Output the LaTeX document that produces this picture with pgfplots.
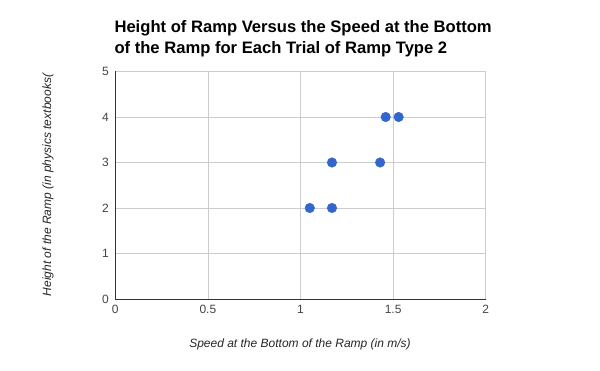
\documentclass[border=0pt]{standalone}
\usepackage{pgfplots}
\pgfplotsset{compat=1.18}
\usepackage{fontspec}
\setmainfont{Liberation Sans}
\definecolor{gblue}{HTML}{3366CC}
\definecolor{ggrid}{HTML}{CCCCCC}
\definecolor{gtick}{HTML}{444444}
\begin{document}
\begin{tikzpicture}
\path[use as bounding box, fill=white] (0pt,0pt) rectangle (600pt,371pt);
\begin{axis}[
  at={(115.3pt,72pt)}, anchor=south west,
  scale only axis, width=370.4pt, height=227.5pt,
  xmin=0, xmax=2, ymin=0, ymax=5,
  xtick={0,0.5,1,1.5,2}, ytick={0,1,2,3,4,5},
  xticklabels={0,0.5,1,1.5,2},
  grid=major, major grid style={ggrid, line width=0.8pt},
  axis x line*=bottom, axis y line*=left,
  axis line style={black!80, line width=0.9pt, -},
  tick style={draw=none},
  ticklabel style={font=\fontsize{12}{14}\selectfont, text=gtick},
  /pgf/number format/assume math mode=true,
  xticklabel style={yshift=-3pt},
  yticklabel style={xshift=-3pt},
  clip=false,
]
\addplot[only marks, mark=*, mark size=4.8pt, draw=gblue, fill=gblue] coordinates {
  (1.05,2) (1.17,2) (1.17,3) (1.43,3) (1.46,4) (1.53,4)
};
\end{axis}
\node[anchor=base west, font=\fontsize{16.6}{20}\selectfont\bfseries] at (111pt,338pt) {Height of Ramp Versus the Speed at the Bottom};
\node[anchor=base west, font=\fontsize{16.6}{20}\selectfont\bfseries] at (111pt,317pt) {of the Ramp for Each Trial of Ramp Type 2};
\node[font=\fontsize{12}{14}\selectfont\itshape, text=black!85] at (300pt,27pt) {Speed at the Bottom of the Ramp (in m/s)};
\node[rotate=90, font=\fontsize{12}{14}\selectfont\itshape, text=black!85] at (48pt,186pt) {Height of the Ramp (in physics textbooks(};
\end{tikzpicture}
\end{document}
